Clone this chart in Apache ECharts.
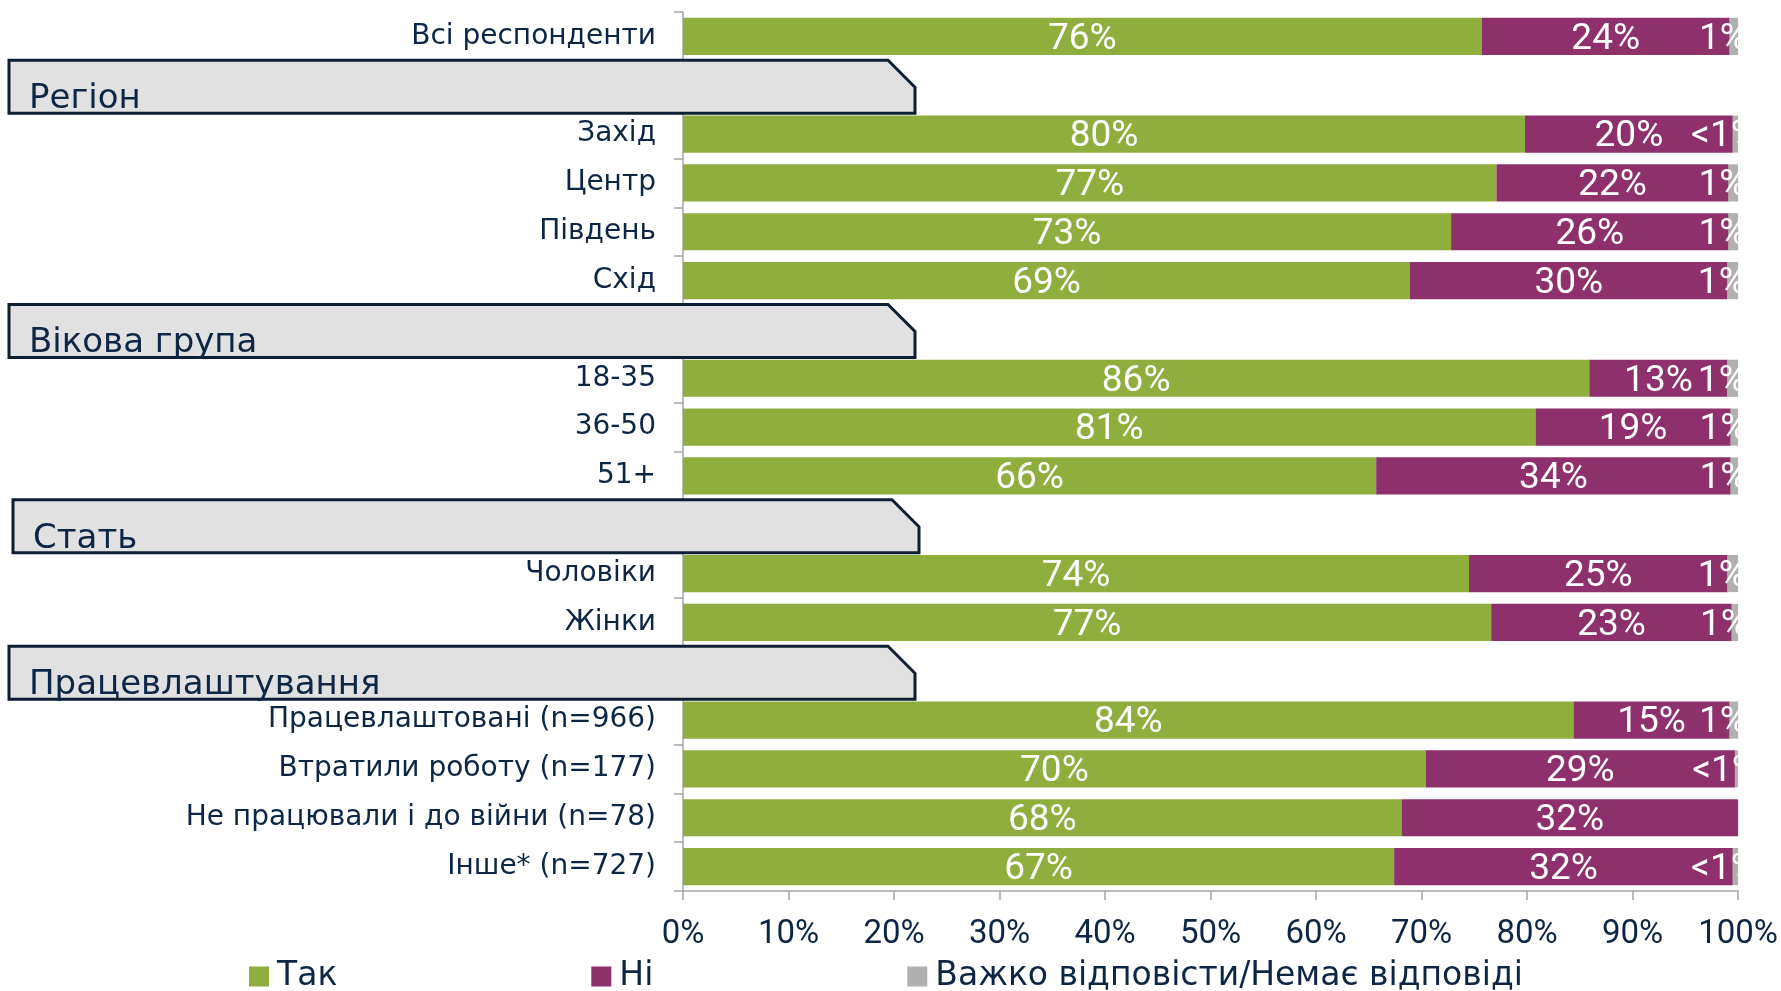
<!DOCTYPE html>
<html>
<head>
<meta charset="utf-8">
<script src="https://cdn.jsdelivr.net/npm/echarts@6/dist/echarts.min.js"></script>
<style>
  html, body { margin: 0; padding: 0; background: #fff; }
  #chart { width: 1781px; height: 991px; }
</style>
</head>
<body>
<div id="chart"></div>
<script>
// rows, top to bottom
const rowNames = [
  'Всі респонденти',
  'Захід', 'Центр', 'Південь', 'Схід',
  '18-35', '36-50', '51+',
  'Чоловіки', 'Жінки',
  'Працевлаштовані (n=966)', 'Втратили роботу (n=177)',
  'Не працювали і до війни (n=78)', 'Інше* (n=727)'
];
// group headers and the row they stand above
const groupHeads = ['Регіон', 'Вікова група', 'Стать', 'Працевлаштування'];
const groupStarts = [1, 5, 8, 10];

const seriesNames = ['Так', 'Ні', 'Важко відповісти/Немає відповіді'];

// bar lengths (%)
const yesVals = [75.7, 79.8, 77.1, 72.8, 68.9, 85.9, 80.8, 65.7, 74.5, 76.6, 84.4, 70.4, 68.1, 67.4];
const noVals  = [23.5, 19.7, 22.0, 26.3, 30.1, 13.1, 18.5, 33.6, 24.5, 22.8, 14.8, 29.3, 31.9, 32.1];
const dkVals  = [0.8, 0.5, 0.9, 0.9, 1.0, 1.0, 0.7, 0.7, 1.0, 0.6, 0.8, 0.3, 0, 0.5];

// printed labels
const yesLabels = ['76%', '80%', '77%', '73%', '69%', '86%', '81%', '66%', '74%', '77%', '84%', '70%', '68%', '67%'];
const noLabels  = ['24%', '20%', '22%', '26%', '30%', '13%', '19%', '34%', '25%', '23%', '15%', '29%', '32%', '32%'];
const dkLabels  = ['1%', '<1%', '1%', '1%', '1%', '1%', '1%', '1%', '1%', '1%', '1%', '<1%', '', '<1%'];

const xTicks = [0, 10, 20, 30, 40, 50, 60, 70, 80, 90, 100];

const colors = ['#8fae3e', '#8e306b', '#b0b0b0'];
const navy = '#0d2645';
const textFont = '"DejaVu Sans", "Noto Sans", sans-serif';
const numFont = '"Liberation Sans Narrow", "Roboto", sans-serif';

// one slot per row, plus an empty slot for every group header
const slots = [];
rowNames.forEach((n, i) => {
  const g = groupStarts.indexOf(i);
  if (g >= 0) slots.push({ head: groupHeads[g] });
  slots.push({ row: i });
});
const yCats = slots.map(s => s.head ? s.head : rowNames[s.row]);
const toSlots = arr => slots.map(s => s.head ? '-' : arr[s.row]);

function makeSeries(idx, vals, labels, labelPos) {
  return {
    name: seriesNames[idx],
    type: 'bar',
    stack: 'all',
    barCategoryGap: '24%',
    itemStyle: { color: colors[idx] },
    label: Object.assign({
      show: true,
      color: '#fff',
      fontFamily: numFont,
      fontSize: 37,
      formatter: p => {
        const s = slots[p.dataIndex];
        return s.head ? '' : labels[s.row];
      }
    }, labelPos),
    data: toSlots(vals)
  };
}

const chart = echarts.init(document.getElementById('chart'));
chart.setOption({
  animation: false,
  grid: { left: 683, right: 37, top: 12, bottom: 100 },
  legend: {
    data: seriesNames,
    left: 244,
    top: 955,
    icon: 'rect',
    itemWidth: 20,
    itemHeight: 20,
    itemGap: 254,
    textStyle: { fontFamily: textFont, fontSize: 33, color: navy, padding: [0, 0, 0, 3] }
  },
  xAxis: {
    type: 'value',
    min: xTicks[0],
    max: xTicks[xTicks.length - 1],
    interval: 10,
    axisLine: { show: true, lineStyle: { color: '#a6a6a6', width: 1.5 } },
    axisTick: { show: true, length: 9, lineStyle: { color: '#a6a6a6', width: 1.5 } },
    splitLine: { show: false },
    axisLabel: {
      margin: 27,
      color: navy,
      fontFamily: numFont,
      fontSize: 33,
      formatter: '{value}%'
    }
  },
  yAxis: {
    type: 'category',
    inverse: true,
    data: yCats,
    axisLine: { show: true, lineStyle: { color: '#a6a6a6', width: 1.5 } },
    axisTick: { show: true, length: 9, interval: 0, lineStyle: { color: '#a6a6a6', width: 1.5 } },
    axisLabel: {
      margin: 27,
      interval: 0,
      color: navy,
      fontFamily: textFont,
      fontSize: 28,
      padding: [5, 0, 0, 0],
      formatter: (v, i) => slots[i].head ? '' : v
    }
  },
  series: [
    makeSeries(0, yesVals, yesLabels, { position: 'inside', offset: [0, 3] }),
    makeSeries(1, noVals, noLabels, { position: 'inside', offset: [0, 3] }),
    makeSeries(2, dkVals, dkLabels, { position: 'inside', offset: [-11, 3] })
  ]
});

// group header boxes and right-edge clipping of the small labels
const graphics = [];
const right = chart.convertToPixel({ xAxisIndex: 0 }, 100);
const bottom = chart.convertToPixel({ yAxisIndex: 0 }, yCats[yCats.length - 1]) + 25;
graphics.push({
  type: 'rect',
  z: 90,
  shape: { x: right + 1, y: 0, width: 60, height: bottom - 1 },
  style: { fill: '#fff' }
});
groupHeads.forEach((h, gi) => {
  const cy = chart.convertToPixel({ yAxisIndex: 0 }, h);
  const dx = gi === 2 ? 4 : 0;
  const x0 = 9 + dx, x1 = 915 + dx, top = cy - 25, bot = cy + 28;
  graphics.push({
    type: 'polygon',
    z: 100,
    shape: { points: [[x0, top], [x1 - 27, top], [x1, top + 27], [x1, bot], [x0, bot]] },
    style: { fill: '#e1e1e1', stroke: '#0f1f33', lineWidth: 3 }
  });
  graphics.push({
    type: 'text',
    z: 101,
    x: x0 + 20,
    y: bot + 3,
    style: {
      text: h,
      fill: navy,
      fontFamily: textFont,
      fontSize: 34,
      textVerticalAlign: 'bottom'
    }
  });
});
chart.setOption({ graphic: graphics });
</script>
</body>
</html>
